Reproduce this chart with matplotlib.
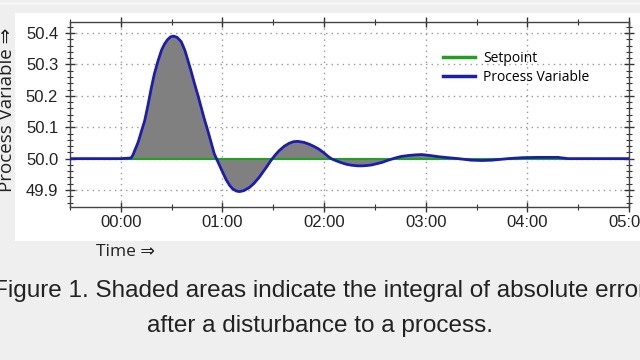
import matplotlib.pyplot as plt
from matplotlib.patches import Rectangle
from matplotlib.ticker import MultipleLocator

# time in minutes, process variable
times = [-0.5, 0.0, 0.1, 0.12, 0.137, 0.155, 0.17, 0.19, 0.21, 0.235, 0.27, 0.30, 0.33,
         0.365, 0.40, 0.43, 0.46, 0.49, 0.52, 0.555, 0.595, 0.63, 0.66, 0.69, 0.725,
         0.76, 0.79, 0.82, 0.856, 0.89, 0.92, 0.955, 0.99, 1.036, 1.07, 1.10, 1.135,
         1.167, 1.21, 1.265, 1.31, 1.36, 1.42, 1.477, 1.52, 1.56, 1.61, 1.657, 1.70,
         1.74, 1.80, 1.853, 1.90, 1.95, 2.0, 2.04, 2.07, 2.12, 2.17, 2.22, 2.27, 2.33,
         2.375, 2.42, 2.47, 2.52, 2.57, 2.63, 2.70, 2.76, 2.83, 2.90, 2.96, 3.04, 3.13,
         3.22, 3.32, 3.45, 3.55, 3.65, 3.81, 3.95, 4.1, 4.3, 4.4, 5.0]
pv = [50.0, 50.0, 50.002, 50.012, 50.026, 50.04, 50.052, 50.073, 50.095, 50.121, 50.175,
      50.225, 50.27, 50.31, 50.345, 50.365, 50.379, 50.388, 50.39, 50.386, 50.372,
      50.345, 50.313, 50.28, 50.239, 50.2, 50.164, 50.128, 50.089, 50.05, 50.015,
      49.99, 49.965, 49.933, 49.915, 49.904, 49.897, 49.895, 49.898, 49.908, 49.921,
      49.94, 49.967, 49.994, 50.012, 50.026, 50.04, 50.049, 50.054, 50.055, 50.052,
      50.046, 50.039, 50.03, 50.018, 50.007, 50.0, 49.993, 49.987, 49.982, 49.979,
      49.977, 49.977, 49.978, 49.980, 49.984, 49.988, 49.995, 50.002, 50.007, 50.010,
      50.012, 50.013, 50.010, 50.006, 50.003, 50.0, 49.995, 49.994, 49.995, 50.0,
      50.003, 50.004, 50.004, 50.0, 50.0]
setpoint = 50.0

x_ticks = [0, 1, 2, 3, 4, 5]
x_labels = ["00:00", "01:00", "02:00", "03:00", "04:00", "05:00"]
y_ticks = [49.9, 50.0, 50.1, 50.2, 50.3, 50.4]
y_labels = ["49.9", "50.0", "50.1", "50.2", "50.3", "50.4"]

fig = plt.figure(figsize=(6.4, 3.6), dpi=100, facecolor="#efefef")

# white panel behind the chart
fig.patches.append(Rectangle((15 / 640, 1 - 241 / 360), 1.0, 228 / 360,
                             transform=fig.transFigure, facecolor="white",
                             edgecolor="none", zorder=-5))
fig.add_artist(plt.Line2D([0, 1], [1 - 3 / 360, 1 - 3 / 360], transform=fig.transFigure,
                          color="#fafafa", lw=1, zorder=-5))

ax = fig.add_axes([70 / 640, 1 - 207 / 360, 559 / 640, 185 / 360])
ax.set_zorder(2)
ax.set_facecolor("white")

ax.fill_between(times, pv, setpoint, color="#808080", lw=0, zorder=2)
ax.plot([-0.5, 5.0], [setpoint, setpoint], color="#22a022", lw=1.5, label="Setpoint", zorder=3)
ax.plot(times, pv, color="#1c1cb0", lw=2, label="Process Variable", zorder=4)

ax.set_xlim(-0.5, 5.0)
ax.set_ylim(49.846, 50.435)
ax.set_xticks(x_ticks)
ax.set_xticklabels(x_labels, fontsize=12, family="Liberation Sans", color="#222222")
ax.set_yticks(y_ticks)
ax.set_yticklabels(y_labels, fontsize=12, family="Liberation Sans", color="#222222")
ax.xaxis.set_minor_locator(MultipleLocator(0.5))
ax.yaxis.set_minor_locator(MultipleLocator(0.02))
ax.tick_params(which="both", direction="inout", top=True, right=True, color="#333333")
ax.tick_params(which="major", length=7, width=1, pad=5)
ax.tick_params(axis="x", which="major", pad=2)
ax.tick_params(which="minor", length=4, width=0.8)
ax.grid(True, which="major", color="#999999", linestyle=(0, (1, 3)), lw=1)
for s in ax.spines.values():
    s.set_color("#444444")
    s.set_linewidth(1)

leg = ax.legend(loc="upper left", bbox_to_anchor=(436 / 640, 1 - 44 / 360),
                bbox_transform=fig.transFigure, frameon=False, borderpad=0,
                handlelength=2.3, handletextpad=0.6, labelspacing=0.3,
                prop={"family": "Open Sans", "size": 10})
for line in leg.get_lines():
    line.set_linewidth(2.5)

fig.text(7 / 640, 1 - 110 / 360, "Process Variable ⇒", rotation=90, ha="center", va="center",
         fontsize=13.5, family=["Open Sans", "DejaVu Sans"], color="#222222")
fig.text(125 / 640, 1 - 252 / 360, "Time ⇒", ha="center", va="center",
         fontsize=12.5, family=["Open Sans", "DejaVu Sans"], color="#222222")

fig.text(320 / 640, 1 - 291 / 360,
         "Figure 1. Shaded areas indicate the integral of absolute error",
         ha="center", va="center", fontsize=17.5, family="Liberation Sans", color="#222222")
fig.text(320 / 640, 1 - 326 / 360, "after a disturbance to a process.",
         ha="center", va="center", fontsize=17.5, family="Liberation Sans", color="#222222")

fig.savefig("out.png", dpi=100, facecolor=fig.get_facecolor())
